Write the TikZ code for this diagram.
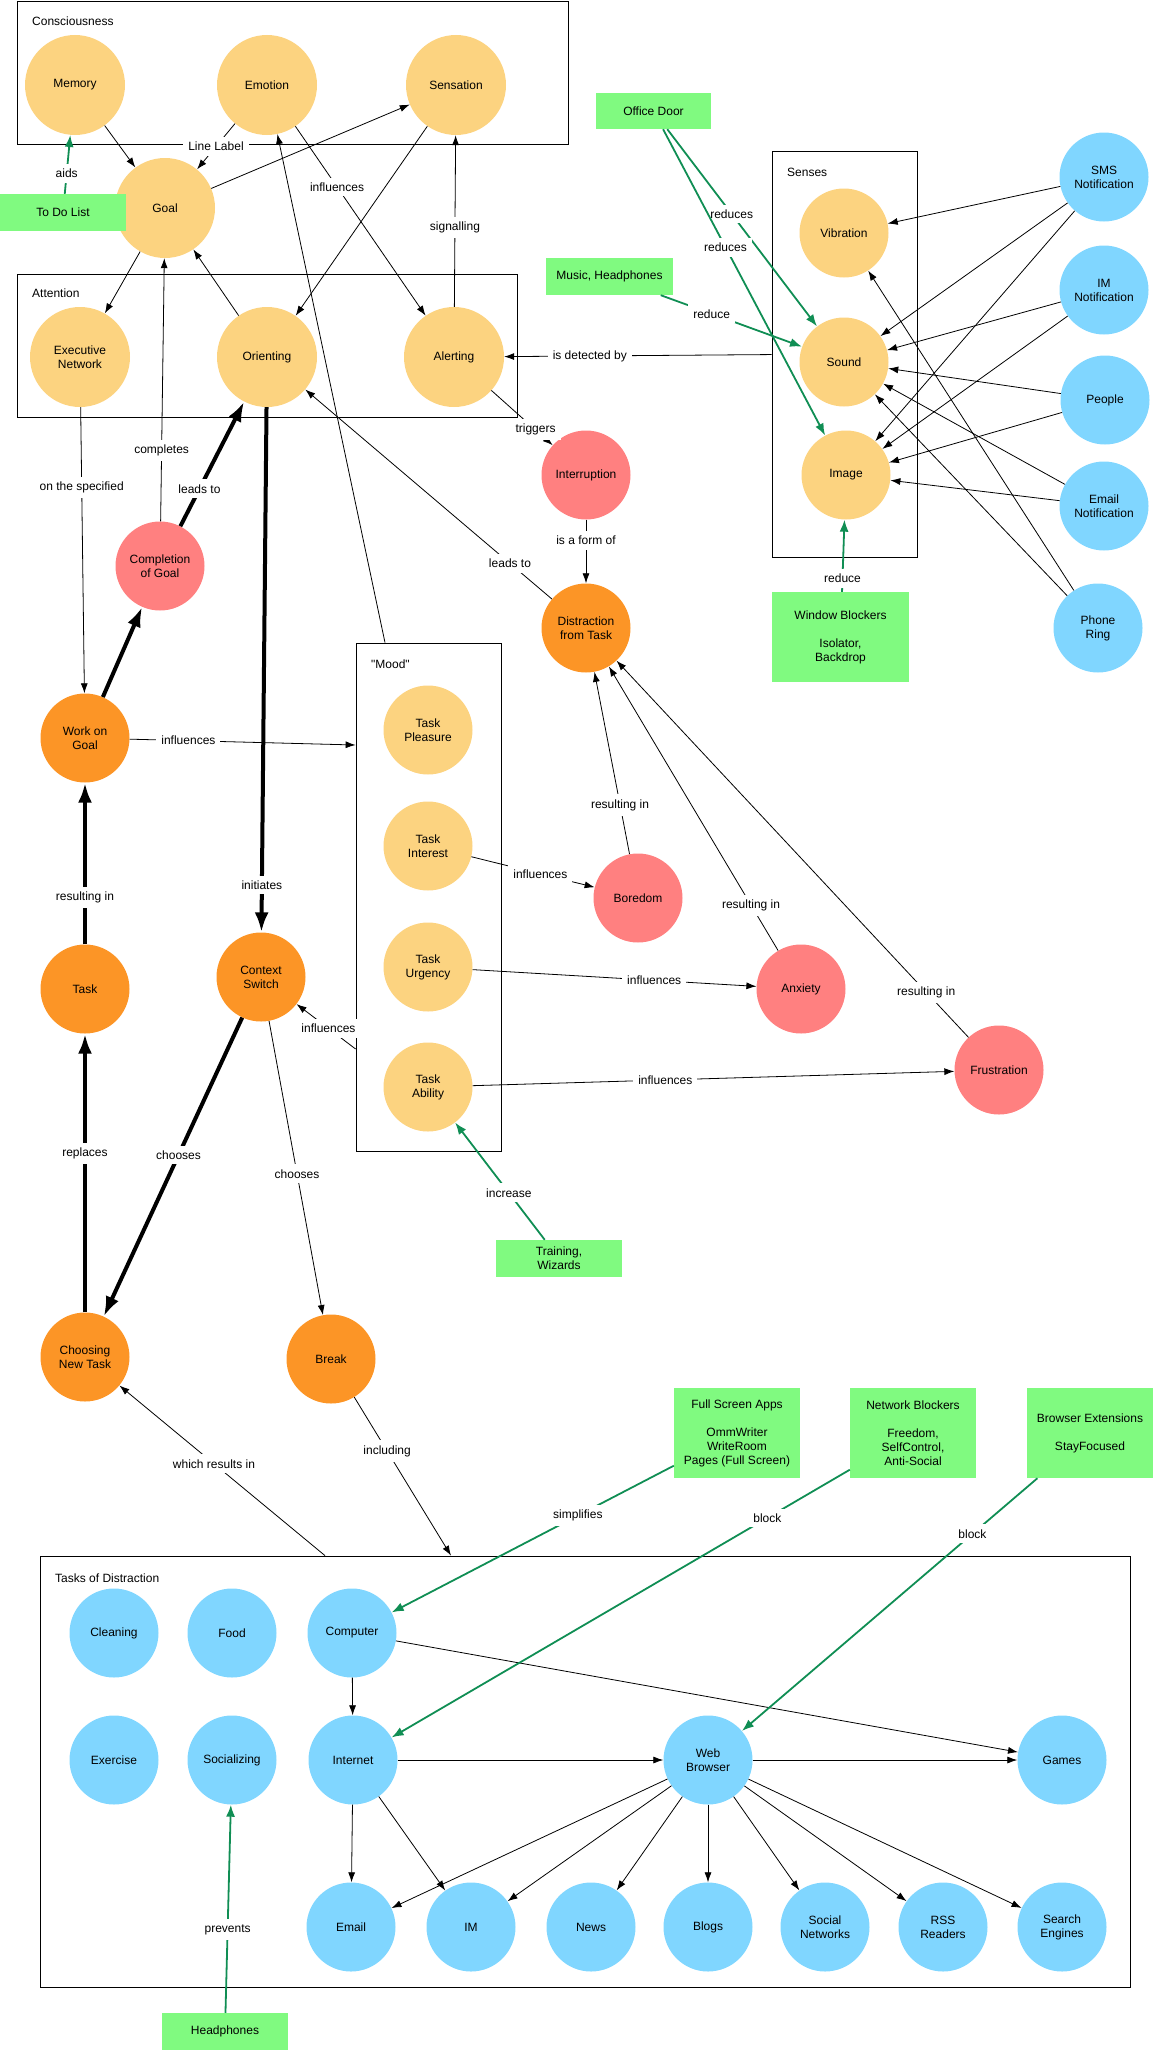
\documentclass[tikz,border=0pt]{standalone}
\usepackage{fontspec}
\setmainfont{Liberation Sans}
\usetikzlibrary{arrows.meta,positioning,shapes}
\definecolor{lightorange}{RGB}{252,211,128}
\definecolor{darkorange}{RGB}{252,149,38}
\definecolor{salmon}{RGB}{255,128,128}
\definecolor{skyblue}{RGB}{128,214,255}
\definecolor{boxgreen}{RGB}{128,250,128}
\definecolor{arrowgreen}{RGB}{16,142,84}

\begin{document}
\begin{tikzpicture}[x=1pt,y=-1pt,font=\fontsize{12}{14}\selectfont,
main node/.style={circle,minimum size=89pt,inner sep=0pt,align=center},
big node/.style={main node,minimum size=100pt,fill=lightorange},
mind node/.style={main node,fill=lightorange},
act node/.style={main node,fill=darkorange},
bad node/.style={main node,fill=salmon},
src node/.style={main node,fill=skyblue},
tool node/.style={rectangle,fill=boxgreen,inner sep=0pt,align=center},
group/.style={rectangle,draw,line width=0.8pt,inner sep=0pt},
group label/.style={anchor=west,inner sep=0pt},
lbl/.style={fill=white,inner sep=5pt}]
\useasboundingbox (0,0) rectangle (1153,2050);
\begin{scope}
\node[group,minimum width=551pt,minimum height=143pt] (consciousness) at (292.5,72.5) {};
\node[group,minimum width=500pt,minimum height=143pt] (attention) at (267,345.5) {};
\node[group,minimum width=145pt,minimum height=406pt] (senses) at (844.5,354) {};
\node[group,minimum width=145pt,minimum height=508pt] (mood) at (428.5,897) {};
\node[group,minimum width=1090pt,minimum height=431pt] (tasks) at (585,1771.5) {};
\node[group label] at (32,21) {Consciousness};
\node[group label] at (32,293) {Attention};
\node[group label] at (787,172) {Senses};
\node[group label] at (371,664) {\textquotedbl Mood\textquotedbl};
\node[group label] at (55,1578) {Tasks of Distraction};
\end{scope}
\begin{scope}
\node[big node] (memory) at (75,85) {Memory};
\node[big node] (emotion) at (267,85) {Emotion};
\node[big node] (sensation) at (456,85) {Sensation};
\node[big node] (goal) at (165,208) {Goal};
\node[big node] (exec) at (80,357) {Executive\\Network};
\node[big node] (orienting) at (267,357) {Orienting};
\node[big node] (alerting) at (454,357) {Alerting};
\node[mind node] (vibration) at (844,233) {Vibration};
\node[mind node] (sound) at (844,362) {Sound};
\node[mind node] (image) at (846,475) {Image};
\node[mind node] (pleasure) at (428,730) {Task\\Pleasure};
\node[mind node] (interest) at (428,846) {Task\\Interest};
\node[mind node] (urgency) at (428,967) {Task\\Urgency};
\node[mind node] (ability) at (428,1087) {Task\\Ability};
\node[bad node] (interruption) at (586,475) {Interruption};
\node[bad node] (completion) at (160,566) {Completion\\of Goal};
\node[bad node] (boredom) at (638,898) {Boredom};
\node[bad node] (anxiety) at (801,989) {Anxiety};
\node[bad node] (frustration) at (999,1070) {Frustration};
\node[act node] (distraction) at (586,628) {Distraction\\from Task};
\node[act node] (work) at (85,738) {Work on\\Goal};
\node[act node] (task) at (85,989) {Task};
\node[act node] (context) at (261,977) {Context\\Switch};
\node[act node] (choosing) at (85,1357) {Choosing\\New Task};
\node[act node] (breaknode) at (331,1359) {Break};
\node[src node] (sms) at (1104,177) {SMS\\Notification};
\node[src node] (imnote) at (1104,290) {IM\\Notification};
\node[src node] (people) at (1105,400) {People};
\node[src node] (emailnote) at (1104,506) {Email\\Notification};
\node[src node] (phone) at (1098,628) {Phone\\Ring};
\node[src node] (cleaning) at (114,1633) {Cleaning};
\node[src node] (food) at (232,1633) {Food};
\node[src node] (computer) at (352,1633) {Computer};
\node[src node] (exercise) at (114,1760) {Exercise};
\node[src node] (socializing) at (232,1760) {Socializing};
\node[src node] (internet) at (353,1760) {Internet};
\node[src node] (browser) at (708,1760) {Web\\Browser};
\node[src node] (games) at (1062,1760) {Games};
\node[src node] (email) at (351,1927) {Email};
\node[src node] (im) at (471,1927) {IM};
\node[src node] (news) at (591,1927) {News};
\node[src node] (blogs) at (708,1927) {Blogs};
\node[src node] (social) at (825,1927) {Social\\Networks};
\node[src node] (rss) at (943,1927) {RSS\\Readers};
\node[src node] (search) at (1062,1927) {Search\\Engines};
\end{scope}
\begin{scope}
\node[tool node,minimum width=126pt,minimum height=37pt] (todo) at (63,212.5) {To Do List};
\node[tool node,minimum width=115pt,minimum height=36pt] (officedoor) at (653.5,111) {Office Door};
\node[tool node,minimum width=127pt,minimum height=37pt] (music) at (609.5,276.5) {Music, Headphones};
\node[tool node,minimum width=137pt,minimum height=90pt] (window) at (840.5,637) {Window Blockers\\[14pt]Isolator,\\Backdrop};
\node[tool node,minimum width=126pt,minimum height=37pt] (training) at (559,1258.5) {Training,\\Wizards};
\node[tool node,minimum width=126pt,minimum height=90pt] (fullscreen) at (737,1433) {Full Screen Apps\\[14pt]OmmWriter\\WriteRoom\\Pages (Full Screen)};
\node[tool node,minimum width=126pt,minimum height=90pt] (netblock) at (913,1433) {Network Blockers\\[14pt]Freedom,\\SelfControl,\\Anti-Social};
\node[tool node,minimum width=126pt,minimum height=90pt] (browserext) at (1090,1433) {Browser Extensions\\[14pt]StayFocused};
\node[tool node,minimum width=126pt,minimum height=37pt] (headphones) at (225,2031.5) {Headphones};
\end{scope}
\begin{scope}[every edge/.style={draw=black,line width=0.8pt,-{Latex[length=10pt,width=7pt]}}]
\draw (memory) edge (goal);
\draw (emotion) edge node[lbl]{Line Label} (goal);
\draw (goal) edge (sensation);
\draw (goal) edge (exec);
\draw (orienting) edge (goal);
\draw (completion) edge node[lbl,pos=0.27]{completes} (goal);
\draw (emotion) edge node[lbl,pos=0.32]{influences} (alerting);
\draw (sensation) edge (orienting);
\draw (alerting) edge node[lbl,pos=0.46]{signalling} (sensation);
\draw (senses) edge node[lbl,pos=0.68]{is detected by} (alerting);
\draw (alerting) edge node[lbl,pos=0.72]{triggers} (interruption);
\draw (interruption) edge node[lbl,pos=0.33]{is a form of} (distraction);
\draw (distraction) edge node[lbl,pos=0.17]{leads to} (orienting);
\draw ([xshift=-43.5pt]mood.north) edge (emotion);
\draw (exec) edge node[lbl,pos=0.28]{on the specified} (work);
\draw (work) edge node[lbl,pos=0.26]{influences} ([yshift=152pt]mood.west);
\draw ([yshift=-152pt]mood.west) edge node[lbl,pos=0.46]{influences} (context);
\draw (context) edge node[lbl,pos=0.52]{chooses} (breaknode);
\draw (interest) edge node[lbl,pos=0.56]{influences} (boredom);
\draw (urgency) edge node[lbl,pos=0.64]{influences} (anxiety);
\draw (ability) edge node[lbl,pos=0.40]{influences} (frustration);
\draw (boredom) edge node[lbl,pos=0.27]{resulting in} (distraction);
\draw (anxiety) edge node[lbl,pos=0.16]{resulting in} (distraction);
\draw (frustration) edge node[lbl,pos=0.12]{resulting in} (distraction);
\draw ([xshift=-260pt]tasks.north) edge node[lbl,pos=0.54]{which results in} (choosing);
\draw (breaknode) edge node[lbl,pos=0.34]{including} ([xshift=-134pt]tasks.north);
\draw (sms) edge (vibration);
\draw (sms) edge (sound);
\draw (sms) edge (image);
\draw (imnote) edge (sound);
\draw (imnote) edge (image);
\draw (people) edge (sound);
\draw (people) edge (image);
\draw (emailnote) edge (sound);
\draw (emailnote) edge (image);
\draw (phone) edge (sound);
\draw (phone) edge (vibration);
\draw (computer) edge (internet);
\draw (computer) edge (games);
\draw (internet) edge (browser);
\draw (internet) edge (email);
\draw (internet) edge (im);
\draw (browser) edge (games);
\draw (browser) edge (email);
\draw (browser) edge (im);
\draw (browser) edge (news);
\draw (browser) edge (blogs);
\draw (browser) edge (social);
\draw (browser) edge (rss);
\draw (browser) edge (search);
\end{scope}
\begin{scope}[every edge/.style={draw=black,line width=4pt,-{Latex[length=20pt,width=14pt]}}]
\draw (work) edge (completion);
\draw (completion) edge node[lbl,pos=0.30]{leads to} (orienting);
\draw (orienting) edge node[lbl,pos=0.91]{initiates} (context);
\draw (task) edge node[lbl,pos=0.29]{resulting in} (work);
\draw (choosing) edge node[lbl,pos=0.57]{replaces} (task);
\draw (context) edge node[lbl,pos=0.46]{chooses} (choosing);
\end{scope}
\begin{scope}[every edge/.style={draw=arrowgreen,line width=1.8pt,-{Latex[length=12pt,width=9pt]}}]
\draw (todo) edge node[lbl,pos=0.35]{aids} (memory);
\draw (officedoor) edge node[lbl,pos=0.43]{reduces} (sound);
\draw (officedoor) edge node[lbl,pos=0.385]{reduces} (image);
\draw (music) edge node[lbl,pos=0.36]{reduce} (sound);
\draw (window) edge node[lbl,pos=0.19]{reduce} (image);
\draw (training) edge node[lbl,pos=0.40]{increase} (ability);
\draw (fullscreen) edge node[lbl,pos=0.34]{simplifies} (computer);
\draw (netblock) edge node[lbl,pos=0.18]{block} (internet);
\draw (browserext) edge node[lbl,pos=0.22]{block} (browser);
\draw (headphones) edge node[lbl,pos=0.40]{prevents} (socializing);
\end{scope}
\end{tikzpicture}
\end{document}
